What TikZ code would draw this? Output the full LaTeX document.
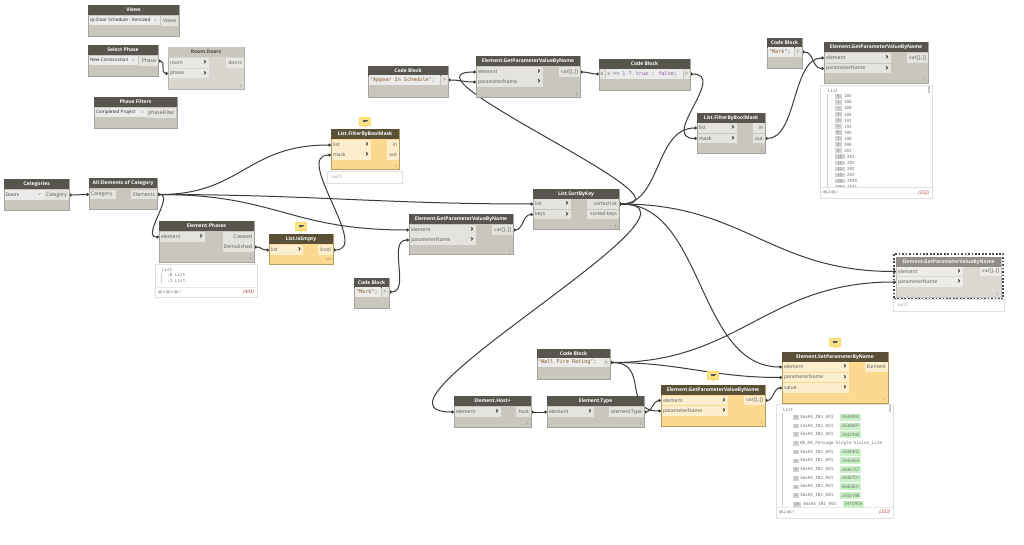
\documentclass[tikz,border=0pt]{standalone}
\usepackage{fontspec}
\setmainfont{Open Sans}
\newfontfamily\monof{DejaVu Sans Mono}
\usetikzlibrary{arrows.meta}
\pgfdeclarelayer{wires}
\pgfsetlayers{wires,main}
\definecolor{wirec}{HTML}{3C3C3C}
\definecolor{strc}{HTML}{8A5A2B}
\definecolor{numc}{HTML}{3C8FD0}
\definecolor{kwc}{HTML}{8A55A8}
\definecolor{greenc}{HTML}{C9F2C6}
\definecolor{idxc}{HTML}{D2D2D2}
\definecolor{redc}{HTML}{B03A3A}
\definecolor{txtc}{HTML}{5A5A5A}
\newcommand{\stdlook}{\definecolor{bodyc}{HTML}{C9C6BD}\definecolor{edgec}{HTML}{A5A39B}\definecolor{headc}{HTML}{58544E}\definecolor{rowc}{HTML}{E4E3DE}\definecolor{headt}{HTML}{FFFFFF}}
\newcommand{\warmlook}{\definecolor{bodyc}{HTML}{FDD98F}\definecolor{edgec}{HTML}{B39C60}\definecolor{headc}{HTML}{5A5038}\definecolor{rowc}{HTML}{FDEFCE}\definecolor{headt}{HTML}{FFFFFF}}
\newcommand{\frozenlook}{\definecolor{bodyc}{HTML}{D8D6CE}\definecolor{edgec}{HTML}{B5B3AB}\definecolor{headc}{HTML}{C9C6BD}\definecolor{rowc}{HTML}{E9E8E3}\definecolor{headt}{HTML}{4A4A4A}}
\newcommand{\paleook}{\definecolor{bodyc}{HTML}{DAD8D1}\definecolor{edgec}{HTML}{C5C3BC}\definecolor{headc}{HTML}{918E88}\definecolor{rowc}{HTML}{EDECE8}\definecolor{headt}{HTML}{F4F4F4}}
\tikzset{
 body/.style={draw=edgec,fill=bodyc,line width=.6pt,inner sep=0pt,outer sep=0pt,anchor=north west},
 head/.style={fill=headc,text=headt,inner sep=0pt,outer sep=0pt,anchor=north west,font=\fontsize{3.75pt}{5pt}\selectfont\bfseries},
 rowbg/.style={fill=rowc,inner sep=0pt,outer sep=0pt,minimum height=9.5*.75pt},
 lbl/.style={inner sep=0pt,outer sep=0pt,text=txtc,font=\fontsize{3.8pt}{5pt}\selectfont},
 ddl/.style={inner sep=0pt,outer sep=0pt,text=black!85,font=\fontsize{3.45pt}{5pt}\selectfont},
 chev/.style={inner sep=0pt,outer sep=0pt,text=black!85,font=\fontsize{6pt}{6pt}\selectfont\bfseries},
 wire/.style={draw=wirec,line width=.75pt,{Circle[length=2.2pt]}-{Circle[length=2.2pt]}},
 prev/.style={draw=black!12,fill=white,line width=.6pt,inner sep=0pt,outer sep=0pt,anchor=north west},
 mono/.style={inner sep=0pt,outer sep=0pt,anchor=west,text=black!55,font=\monof\fontsize{3.2pt}{4pt}\selectfont},
 foot/.style={inner sep=0pt,outer sep=0pt,text=black!70,font=\fontsize{2.7pt}{4pt}\selectfont},
 redn/.style={inner sep=0pt,outer sep=0pt,text=redc,font=\fontsize{3.6pt}{4pt}\selectfont\itshape},
 idx/.style={fill=idxc,inner sep=0pt,outer sep=0pt,anchor=west,minimum height=4.6*.75pt,text=black!50,font=\monof\fontsize{2.6pt}{3pt}\selectfont},
 grn/.style={fill=greenc,inner sep=0pt,outer sep=0pt,anchor=west,minimum height=7*.75pt,minimum width=21*.75pt,text=black!60,font=\fontsize{3.4pt}{4pt}\selectfont},
 code/.style={inner sep=0pt,outer sep=0pt,anchor=west,font=\monof\fontsize{3.85pt}{5pt}\selectfont},
 bubble/.style={fill=yellow!55!orange!45,draw=yellow!60!orange!60,line width=.3pt,inner sep=0pt,outer sep=0pt,minimum width=11*.75pt,minimum height=8*.75pt},
 dashbox/.style={draw=black!70,line width=.8pt,dash pattern=on 1.3pt off 1.3pt,inner sep=0pt,outer sep=0pt,anchor=north west},
}
\newcommand{\dyn}[6]{%
 \node[body,minimum width=(#4-#2)*.75pt,minimum height=(#5-#3)*.75pt] (#1) at (#2,#3) {};
 \node[head,minimum width=(#4-#2)*.75pt,minimum height=10*.75pt] (#1-h) at (#2,#3) {#6};}
\newcommand{\lace}[3]{\node[inner sep=0pt,text=black!55,font=\fontsize{3pt}{3pt}\selectfont] (#1-lace) at (#2-3,#3-3) {I};}
\newcommand{\inrow}[5]{%
 \coordinate (#1) at (#2,#3);
 \node[rowbg,anchor=west,minimum width=#4*.75pt] (#1-r) at (#2+.5,#3) {};
 \node[lbl,anchor=west] (#1-t) at (#2+2,#3) {#5};
 \node[chev] (#1-c) at (#2+#4-3,#3-.5) {\symbol{"203A}};}
\newcommand{\inplain}[5]{%
 \coordinate (#1) at (#2,#3);
 \node[rowbg,anchor=west,minimum width=#4*.75pt] (#1-r) at (#2+.5,#3) {};
 \node[lbl,anchor=west] (#1-t) at (#2+2,#3) {#5};}
\newcommand{\outrow}[5]{%
 \coordinate (#1) at (#2,#3);
 \node[rowbg,anchor=east,minimum width=#4*.75pt] (#1-r) at (#2-.5,#3) {};
 \node[lbl,anchor=east] (#1-t) at (#2-2,#3) {#5};}
\newcommand{\dropd}[5]{%
 \node[rowbg,anchor=west,fill=white!92!black,minimum width=#4*.75pt] (#1) at (#2,#3) {};
 \node[ddl,anchor=west] (#1-t) at (#2+1.5,#3-.5) {#5};
 \node[lbl,text=black!55] (#1-v) at (#2+#4-4,#3) {\fontsize{2.8pt}{3pt}\selectfont v};}
\newcommand{\prevw}[8]{%
 \node[prev,minimum width=(#4-#2)*.75pt,minimum height=(#5-#3)*.75pt] (#1) at (#2,#3) {};
 \node[draw=black!12,line width=.5pt,inner sep=0pt,minimum height=0pt,minimum width=(#4-#2)*.75pt,anchor=west] (#1-f) at (#2,#6) {};
 \node[foot,anchor=west] (#1-l) at (#2+3,#6+5.3) {#7};
 \node[redn,anchor=east] (#1-n) at (#4-3,#6+5.3) {(#8)};}
\newcommand{\nullp}[5]{%
 \node[prev,minimum width=(#4-#2)*.75pt,minimum height=(#5-#3)*.75pt] (#1) at (#2,#3) {};
 \node[mono,text=black!45] (#1-t) at (#2+5,#3+6) {null};}
\newcommand{\bub}[3]{%
 \node[bubble] (#1) at (#2,#3) {};
 \fill[yellow!60!orange!60] (#1.south) ++(-2.5,0) -- ++(5,0) -- ++(-2.5,2.5) -- cycle;
 \fill[black!65] (#2-2.5,#3-1.3) rectangle (#2+3,#3-.3);
 \fill[black!65] (#2-2.5,#3+.4) rectangle (#2+1.5,#3+1.2);}
\newcommand{\wirex}[3]{\draw[wire] (#1) .. controls +(#3,0) and +(-#3,0) .. (#2);}
\begin{document}
\begin{tikzpicture}[x=.75pt,y=-.75pt]
\useasboundingbox (0,0) rectangle (1024,545);
\begin{pgfonlayer}{wires}
\fill[white] (0,0) rectangle (1024,545);
\end{pgfonlayer}
\stdlook
\dyn{views}{88}{5}{179}{36}{Views}
\dropd{viewsd}{88.5}{20.5}{71}{qc-Door Schedule - Itemized}
\outrow{viewso}{178.5}{21}{17.5}{Views}
\dyn{selph}{88}{45}{158}{76}{Select Phase}
\dropd{selphd}{88.5}{60.5}{49}{New Construction}
\outrow{selpho}{158}{61}{19}{Phase}
\frozenlook
\dyn{room}{168}{47}{244}{89}{Room.Doors}
\inrow{roomr}{168}{63}{40}{room}
\inrow{roomp}{168}{73.5}{40}{phase}
\outrow{roomo}{244}{63}{18}{doors}
\lace{room}{244}{89}
\stdlook
\dyn{phf}{94}{97}{177}{128}{Phase Filters}
\dropd{phfd}{94.5}{112.5}{52}{Completed Project}
\outrow{phfo}{176.5}{113}{29.5}{phaseFilter}
\dyn{cats}{4}{179}{69}{210}{Categories}
\dropd{catsd}{4.5}{195}{39}{Doors}
\outrow{catso}{69}{195}{25}{Category}
\dyn{allel}{89}{178}{157}{209}{All Elements of Category}
\inplain{alleli}{89}{194.5}{26}{Category}
\outrow{allelo}{157}{194.5}{26}{Elements}
\dyn{phases}{159}{221}{254}{262}{Element.Phases}
\inrow{phasesi}{159}{237}{45}{element}
\outrow{phasesc}{254}{237}{31}{Created}
\outrow{phasesd}{254}{247}{31}{Demolished}
\lace{phases}{254}{262}
\prevw{pphases}{155}{264}{257}{297}{287}{@L3 @L2 @L1}{404}
\node[mono] (pl0) at (162,269.5) {List};
\node[mono] (pl1) at (168,275.2) {{\color{blue!60}\fontsize{2.4pt}{3pt}\selectfont\symbol{"25B8}}0 List};
\node[mono] (pl2) at (168,281) {{\color{blue!60}\fontsize{2.4pt}{3pt}\selectfont\symbol{"25B8}}1 List};
\draw[black!20,line width=.4pt] (161.5,273) -- (161.5,283);
\warmlook
\dyn{fbm}{331}{129}{399}{169}{List.FilterByBoolMask}
\inrow{fbml}{331}{145}{39}{list}
\inrow{fbmm}{331}{155}{39}{mask}
\outrow{fbmi}{399}{145}{12}{in}
\outrow{fbmo}{399}{155}{12}{out}
\lace{fbm}{399}{169}
\nullp{pfbm}{327}{171}{402}{183}
\bub{cm1}{365}{121}
\stdlook
\dyn{cba}{368}{66}{448}{97}{Code Block}
\node[rowbg,anchor=west,fill=white!92!black,minimum width=71*.75pt] (cbar) at (369,80) {};
\node[code,text=strc] (cbat) at (370,80) {"Appear In Schedule";};
\node[rowbg,anchor=west,minimum width=7*.75pt] (cbab) at (441,80) {};
\node[lbl] (cbag) at (444.5,80) {>};
\coordinate (cbao) at (448,80);
\dyn{gp1}{476}{56}{580}{97}{Element.GetParameterValueByName}
\inrow{gp1e}{476}{72}{66}{element}
\inrow{gp1p}{476}{82}{66}{parameterName}
\outrow{gp1o}{580}{72}{21}{var[]..[]}
\lace{gp1}{580}{97}
\dyn{cbx}{599}{59}{690}{90}{Code Block}
\coordinate (cbxi) at (599,74);
\node[rowbg,anchor=west,minimum width=5.5*.75pt] (cbxp) at (599.5,74) {};
\node[lbl] (cbxpt) at (602,74) {x};
\node[rowbg,anchor=west,fill=white!92!black,minimum width=77*.75pt] (cbxr) at (606,74) {};
\node[code,text=black!60] (cbxt) at (607,74) {x == {\color{numc}1} ? {\color{kwc}true} : {\color{kwc}false};};
\node[rowbg,anchor=west,minimum width=6.5*.75pt] (cbxb) at (683.5,74) {};
\node[lbl] (cbxg) at (686.5,74) {>};
\coordinate (cbxo) at (690,74);
\dyn{fbb}{697}{113}{765}{153}{List.FilterByBoolMask}
\inrow{fbbl}{697}{128}{39}{list}
\inrow{fbbm}{697}{138.5}{39}{mask}
\outrow{fbbi}{765}{128}{12}{in}
\outrow{fbbo}{765}{138.5}{12}{out}
\lace{fbb}{765}{153}
\dyn{cbm}{767}{38}{802}{68}{Code Block}
\node[rowbg,anchor=west,fill=white!92!black,minimum width=26*.75pt] (cbmr) at (767.5,52) {};
\node[code,text=strc] (cbmt) at (769,52) {"Mark";};
\node[rowbg,anchor=west,minimum width=7*.75pt] (cbmb) at (794.5,52) {};
\node[lbl] (cbmg) at (798,52) {>};
\coordinate (cbmo) at (802,52);
\dyn{gp2}{824}{42}{928}{83}{Element.GetParameterValueByName}
\inrow{gp2e}{824}{58}{66}{element}
\inrow{gp2p}{824}{68.5}{66}{parameterName}
\outrow{gp2o}{928}{58}{21}{var[]..[]}
\lace{gp2}{928}{83}
\prevw{pgp2}{820}{85}{932}{198}{187.5}{@L2 @L1}{202}
\node[mono] (t0) at (828,91) {List};
\draw[black!20,line width=.4pt] (827.5,94) -- (827.5,187);
\foreach \i/\v [count=\k from 0] in {0/185,1/186,2/188,3/189,4/191,5/193,6/195,7/198,8/200,9/201}{
 \node[idx,minimum width=7*.75pt] (ti\i) at (835,96.3+\k*6.05) {\i};
 \node[mono] (tv\i) at (844,96.3+\k*6.05) {\v};}
\foreach \i/\v [count=\k from 10] in {10/201,11/202,12/202,13/203,14/2030}{
 \node[idx,minimum width=9.5*.75pt] (ti\i) at (835,96.3+\k*6.05) {\i};
 \node[mono] (tv\i) at (847,96.3+\k*6.05) {\v};}
\begin{scope}
\clip (825,184) rectangle (900,187);
\node[idx,minimum width=9.5*.75pt] (ti15) at (835,187) {15};
\node[mono] (tv15) at (847,187) {2031};
\end{scope}
\node[fill=black!22,inner sep=0pt,minimum width=2*.75pt,minimum height=7*.75pt] (tscroll) at (929,89.5) {};
\warmlook
\dyn{ise}{269}{234}{333}{264}{List.IsEmpty}
\inrow{isei}{269}{250}{33.5}{list}
\outrow{iseo}{333}{250}{14.5}{bool}
\node[inner sep=0pt,text=black!45,font=\fontsize{2.8pt}{3pt}\selectfont] (iselace) at (329,260) {xxx};
\bub{cm2}{301}{226}
\stdlook
\dyn{gp3}{409}{214}{513}{254}{Element.GetParameterValueByName}
\inrow{gp3e}{409}{230}{66}{element}
\inrow{gp3p}{409}{240}{66}{parameterName}
\outrow{gp3o}{513}{230}{21}{var[]..[]}
\lace{gp3}{513}{254}
\dyn{cbn}{354}{278}{389}{308}{Code Block}
\node[rowbg,anchor=west,fill=white!92!black,minimum width=26*.75pt] (cbnr) at (354.5,292) {};
\node[code,text=strc] (cbnt) at (356,292) {"Mark";};
\node[rowbg,anchor=west,minimum width=7*.75pt] (cbnb) at (381.5,292) {};
\node[lbl] (cbng) at (385,292) {>};
\coordinate (cbno) at (389,292);
\dyn{sbk}{533}{189}{619}{229}{List.SortByKey}
\inrow{sbkl}{533}{204}{37}{list}
\inrow{sbkk}{533}{214.5}{37}{keys}
\outrow{sbko}{619}{204}{31.5}{sorted list}
\outrow{sbkq}{619}{214.5}{31.5}{sorted keys}
\lace{sbk}{619}{229}
\dyn{cbw}{537}{349}{610}{379}{Code Block}
\node[rowbg,anchor=west,fill=white!92!black,minimum width=65*.75pt] (cbwr) at (537.5,362.5) {};
\node[code,text=strc] (cbwt) at (538,362.5) {"Wall Fire Rating";};
\node[rowbg,anchor=west,minimum width=6.5*.75pt] (cbwb) at (603,362.5) {};
\node[lbl] (cbwg) at (606.3,362.5) {>};
\coordinate (cbwo) at (610,362.5);
\dyn{host}{454}{396}{531}{427}{Element.Host+}
\inrow{hosti}{454}{412}{46}{element}
\outrow{hosto}{531}{412}{14.5}{host}
\lace{host}{531}{427}
\dyn{etype}{547}{396}{644}{427}{Element.Type}
\inrow{etypei}{547}{412}{46}{element}
\outrow{etypeo}{644}{412}{35}{elementType}
\lace{etype}{644}{427}
\warmlook
\dyn{gpy}{661}{385}{765}{426}{Element.GetParameterValueByName}
\inrow{gpye}{661}{400.5}{66}{element}
\inrow{gpyp}{661}{411}{66}{parameterName}
\outrow{gpyo}{765}{400.5}{21}{var[]..[]}
\lace{gpy}{765}{426}
\bub{cm3}{713}{375}
\dyn{spn}{782}{352}{888}{403}{Element.SetParameterByName}
\inrow{spne}{782}{367}{66}{element}
\inrow{spnp}{782}{377.5}{66}{parameterName}
\inrow{spnv}{782}{388}{66}{value}
\outrow{spno}{888}{367}{23}{Element}
\lace{spn}{888}{403}
\bub{cm4}{835}{342}
\prevw{pspn}{776}{404}{893}{518}{507}{@L2 @L1}{202}
\node[mono] (bl) at (783,410) {List};
\draw[black!20,line width=.4pt] (782.5,413) -- (782.5,506);
\foreach \i/\s/\v in {0/36x84\_IN1\_001/2638892,1/24x84\_IN2\_001/2638897,2/36x84\_IN2\_001/2642946,4/36x84\_IN2\_001/2644902,5/36x84\_IN1\_001/2645665,6/36x84\_IN2\_001/2646157,7/36x84\_IN2\_001/2648701,8/36x84\_IN1\_001/4645801,9/36x84\_IN2\_001/2650148}{
 \pgfmathsetmacro{\yy}{417.3+\i*8.7}
 \node[idx,minimum width=5.5*.75pt] (bi\i) at (793,\yy) {\i};
 \node[mono] (bs\i) at (800,\yy) {\s};
 \node[grn] (bv\i) at (840,\yy) {\v};}
\node[idx,minimum width=5.5*.75pt] (bi3) at (793,443.4) {3};
\node[mono] (bs3) at (800,443.4) {00\_DR\_Passage-Single-Vision\_Lite};
\node[idx,minimum width=8*.75pt] (bi10) at (793,504.3) {10};
\node[mono] (bs10) at (803,504.3) {36x84\_IN1\_001};
\node[grn] (bv10) at (843,504.3) {3410905};
\node[fill=black!22,inner sep=0pt,minimum width=2*.75pt,minimum height=7*.75pt] (bscroll) at (890,408) {};
\paleook
\dyn{gpd}{896}{257}{1001}{297}{Element.GetParameterValueByName}
\inrow{gpde}{896}{271.5}{66}{element}
\inrow{gpdp}{896}{282}{66}{parameterName}
\outrow{gpdo}{1001}{271.5}{21}{var[]..[]}
\lace{gpd}{1001}{297}
\node[dashbox,minimum width=109*.75pt,minimum height=45*.75pt] (gpdsel) at (894,254) {};
\nullp{pgpd}{893}{299}{1004}{311}
\begin{pgfonlayer}{wires}
\wirex{selpho}{roomp}{8}
\wirex{catso}{alleli}{10}
\wirex{allelo}{fbml}{85}
\wirex{allelo}{sbkl}{150}
\wirex{allelo}{gp3e}{120}
\wirex{allelo}{phasesi}{18}
\wirex{phasesd}{isei}{8}
\wirex{iseo}{fbmm}{38}
\wirex{cbao}{gp1p}{12}
\wirex{sbko}{gp1e}{85}
\wirex{gp1o}{cbxi}{8}
\wirex{cbxo}{fbbm}{38}
\wirex{sbko}{fbbl}{42}
\wirex{fbbo}{gp2e}{32}
\wirex{cbmo}{gp2p}{12}
\wirex{cbno}{gp3p}{22}
\wirex{gp3o}{sbkk}{10}
\wirex{sbko}{gpde}{125}
\wirex{sbko}{spne}{85}
\wirex{sbko}{hosti}{110}
\wirex{cbwo}{gpdp}{130}
\wirex{cbwo}{spnp}{70}
\wirex{cbwo}{gpyp}{40}
\wirex{etypeo}{gpye}{8}
\wirex{hosto}{etypei}{8}
\wirex{gpyo}{spnv}{8}
\end{pgfonlayer}
\end{tikzpicture}
\end{document}
